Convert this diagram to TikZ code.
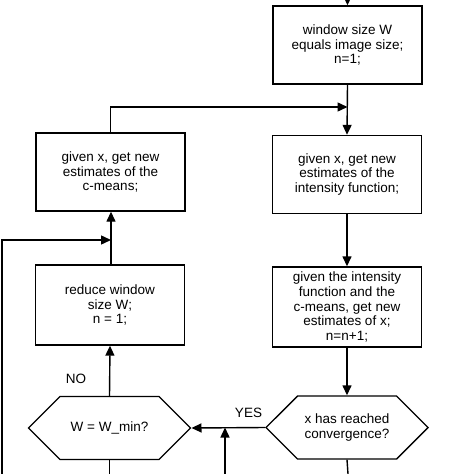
\documentclass[tikz,border=0pt]{standalone}
\usepackage{fontspec}
\setmainfont{Liberation Sans}
\usetikzlibrary{arrows.meta,shapes.symbols}
\begin{document}
\begin{tikzpicture}[x=1bp,y=-1bp,
  every path/.style={line width=1.4bp},
  flowbox/.style={draw, line width=1.4bp, rectangle, minimum width=149bp, minimum height=78bp, align=center, inner sep=1bp,
    font=\fontsize{13.5bp}{14.9bp}\selectfont},
  decision/.style={draw, line width=1.4bp, shape=signal, signal to=west and east, signal pointer angle=90,
    minimum width=162bp, minimum height=63bp, inner sep=1bp, align=center,
    font=\fontsize{13.5bp}{14.9bp}\selectfont},
  lab/.style={font=\fontsize{13.5bp}{15bp}\selectfont, inner sep=0pt},
  arr/.style={-{Triangle[length=10bp,width=9bp]}}]
\useasboundingbox (0,0) rectangle (474,474);
\node[flowbox] (win) at (347.5,45) {window size W\\equals image size;\\n=1;};
\node[flowbox] (intens) at (347,174.5) {given x, get new\\estimates of the\\intensity function;};
\node[flowbox] (cmeans) at (110.5,172) {given x, get new\\estimates of the\\c-means;};
\node[flowbox, minimum height=80bp] (reduce) at (110,305) {reduce window\\size W;\\n = 1;};
\node[flowbox, minimum height=80bp] (update) at (347,307) {given the intensity\\function and the\\c-means, get new\\estimates of x;\\n=n+1;};
\node[decision] (conv) at (347,427.5) {x has reached\\convergence?};
\node[decision] (wmin) at (109.5,428) {W = W\_min?};
\node[lab] (no) at (76,379) {NO};
\node[lab] (yes) at (248.5,413) {YES};
\coordinate (topin) at (347.5,0);
\coordinate (j1) at (347.5,107);
\coordinate (j2) at (111,240);
\coordinate (lb) at (2,474);
\coordinate (b2) at (225,474);
\coordinate (b1) at (109.5,474);
\coordinate (b3) at (348,474);
\draw[arr] (topin) -- (win.north);
\draw[arr] (win.south) -- (intens.north);
\draw[arr] (cmeans.north) |- (j1);
\draw[arr] (intens.south) -- (update.north);
\draw[arr] (update.south) -- (conv.north);
\draw[arr] (conv.west) -- (wmin.east);
\draw[arr] (b2) -- (b2 |- conv.west);
\draw[arr] (wmin.north) -- (reduce.south);
\draw[arr] (reduce.north -| j2) -- (j2 |- cmeans.south);
\draw[arr] (lb) |- (j2);
\draw (wmin.south) -- (b1);
\draw (conv.south) -- (b3);
\end{tikzpicture}
\end{document}
